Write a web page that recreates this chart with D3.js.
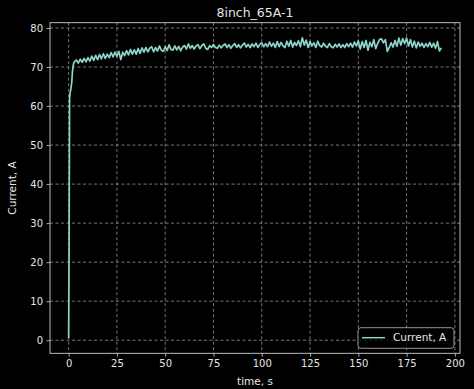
<!DOCTYPE html>
<html>
<head>
<meta charset="utf-8">
<script src="https://cdn.jsdelivr.net/npm/d3@7"></script>
<style>
  body { margin: 0; background: #000; }
  text { font-family: "DejaVu Sans", sans-serif; fill: #e6e6e6; }
</style>
</head>
<body>
<div id="chart"></div>
<script>
// start-up ramp (sub second samples)
const rampTime = [0, 0.2, 0.5, 0.8, 1.2, 1.6, 2.0, 2.5, 3.0]
const rampCurrent = [0.5, 20, 62, 63.5, 64.5, 66, 69, 70.8, 71.3]

// after that one sample per second from t = 4 s
const steadyStart = 4
const steadyStep = 1
const steadyCurrent = [
    71.8, 71.0, 72.0, 71.2, 72.2, 71.3, 72.4, 71.5, 72.8, 71.7,
    73.0, 71.9, 73.2, 72.1, 73.4, 72.2, 73.3, 72.4, 73.7, 72.6,
    73.8, 72.7, 74.0, 71.9, 73.8, 72.9, 74.2, 73.1, 74.5, 73.3,
    74.4, 73.3, 74.7, 73.5, 74.9, 73.8, 75.0, 73.9, 74.8, 75.2,
    73.9, 75.0, 74.1, 75.4, 74.3, 74.0, 75.2, 74.2, 75.7, 74.5,
    74.3, 75.4, 74.4, 75.3, 74.2, 75.1, 75.5, 74.6, 75.9, 74.8,
    75.5, 74.6, 75.4, 75.7, 74.7, 75.5, 75.9, 74.8, 74.5, 75.5,
    75.0, 75.8, 75.0, 74.8, 75.6, 74.9, 75.5, 75.9, 75.0, 75.7,
    74.8, 75.5, 76.0, 75.0, 75.7, 74.9, 75.6, 76.1, 75.1, 75.8,
    75.0, 75.9, 75.2, 76.1, 75.0, 75.8, 76.2, 75.2, 76.0, 75.2,
    76.4, 75.3, 76.1, 75.0, 76.5, 75.2, 76.3, 75.4, 75.0, 76.6,
    75.3, 76.8, 75.1, 76.3, 75.5, 76.7, 75.2, 77.5, 75.6, 76.9,
    75.0, 76.5, 75.4, 76.2, 75.0, 76.6, 75.5, 75.1, 76.1, 75.3,
    75.0, 76.0, 75.2, 74.9, 75.8, 75.1, 75.9, 75.0, 75.7, 75.0,
    76.0, 75.2, 76.1, 75.1, 76.4, 75.4, 76.7, 74.6, 76.5, 75.0,
    76.8, 74.3, 76.3, 75.2, 77.0, 74.7, 76.0, 77.1, 77.2, 76.2,
    77.0, 74.0, 75.0, 76.2, 75.1, 76.8, 75.3, 77.4, 75.6, 77.3,
    76.0, 77.4, 75.4, 77.0, 75.1, 76.6, 74.9, 76.4, 75.3, 76.1,
    75.0, 76.0, 75.2, 76.3, 75.1, 76.1, 74.8, 76.5, 74.1, 74.9
]

const xTicks = [0, 25, 50, 75, 100, 125, 150, 175, 200]
const yTicks = [0, 10, 20, 30, 40, 50, 60, 70, 80]

const title = "8inch_65A-1"
const xLabel = "time, s"
const yLabel = "Current, A"
const seriesName = "Current, A"

const width = 474, height = 389
const margin = {top: 22.7, right: 14, bottom: 35.7, left: 50}
const lineColor = "#8dd3c7"

let points = []
for (i = 0; i < rampTime.length; i++) {
    points.push({t: rampTime[i], c: rampCurrent[i]})
}
for (i = 0; i < steadyCurrent.length; i++) {
    points.push({t: steadyStart + i * steadyStep, c: steadyCurrent[i]})
}

// matplotlib style 5% padding
const pad = (ext) => {
    let d = (ext[1] - ext[0]) * 0.05
    return [ext[0] - d, ext[1] + d]
}

const x = d3.scaleLinear()
    .domain(pad(d3.extent(points, d => d.t)))
    .range([margin.left, width - margin.right])

const y = d3.scaleLinear()
    .domain(pad(d3.extent(points, d => d.c)))
    .range([height - margin.bottom, margin.top])

const svg = d3.select("#chart").append("svg")
    .attr("width", width)
    .attr("height", height)
    .style("background", "#000")

// grid
svg.append("g")
    .selectAll("line")
    .data(xTicks)
    .join("line")
    .attr("x1", d => x(d)).attr("x2", d => x(d))
    .attr("y1", margin.top).attr("y2", height - margin.bottom)
    .attr("stroke", "#b0b0b0")
    .attr("stroke-width", 0.8)
    .attr("stroke-dasharray", "3,2.5")
    .attr("opacity", 0.85)

svg.append("g")
    .selectAll("line")
    .data(yTicks)
    .join("line")
    .attr("x1", margin.left).attr("x2", width - margin.right)
    .attr("y1", d => y(d)).attr("y2", d => y(d))
    .attr("stroke", "#b0b0b0")
    .attr("stroke-width", 0.8)
    .attr("stroke-dasharray", "3,2.5")
    .attr("opacity", 0.85)

// the data line
const line = d3.line()
    .x(d => x(d.t))
    .y(d => y(d.c))

svg.append("path")
    .datum(points)
    .attr("d", line)
    .attr("fill", "none")
    .attr("stroke", lineColor)
    .attr("stroke-width", 1.7)
    .attr("stroke-linejoin", "round")

// axes
const xAxis = svg.append("g")
    .attr("transform", `translate(0,${height - margin.bottom})`)
    .call(d3.axisBottom(x).tickValues(xTicks).tickSize(3.5).tickPadding(3.5))

const yAxis = svg.append("g")
    .attr("transform", `translate(${margin.left},0)`)
    .call(d3.axisLeft(y).tickValues(yTicks).tickSize(3.5).tickPadding(3.5))

for (const ax of [xAxis, yAxis]) {
    ax.select(".domain").remove()
    ax.selectAll(".tick line").attr("stroke", "#d0d0d0").attr("stroke-width", 0.8)
    ax.selectAll(".tick text")
        .style("font-family", "DejaVu Sans")
        .style("font-size", "10px")
        .attr("fill", "#e6e6e6")
}

// frame
svg.append("rect")
    .attr("x", margin.left)
    .attr("y", margin.top)
    .attr("width", width - margin.left - margin.right)
    .attr("height", height - margin.top - margin.bottom)
    .attr("fill", "none")
    .attr("stroke", "#cfcfcf")
    .attr("stroke-width", 0.9)

// labels
svg.append("text")
    .attr("x", (margin.left + width - margin.right) / 2)
    .attr("y", 17)
    .attr("text-anchor", "middle")
    .style("font-size", "12.5px")
    .text(title)

svg.append("text")
    .attr("x", (margin.left + width - margin.right) / 2)
    .attr("y", 385)
    .attr("text-anchor", "middle")
    .style("font-size", "10.5px")
    .text(xLabel)

svg.append("text")
    .attr("transform", `translate(16,${(margin.top + height - margin.bottom) / 2}) rotate(-90)`)
    .attr("text-anchor", "middle")
    .style("font-size", "10.5px")
    .text(yLabel)

// legend
const legend = svg.append("g")
    .attr("transform", "translate(358,327.7)")

legend.append("rect")
    .attr("width", 96)
    .attr("height", 20.6)
    .attr("rx", 3)
    .attr("fill", "#000")
    .attr("fill-opacity", 0.8)
    .attr("stroke", "#b8b8b8")
    .attr("stroke-width", 0.8)

legend.append("line")
    .attr("x1", 4).attr("x2", 27)
    .attr("y1", 10).attr("y2", 10)
    .attr("stroke", lineColor)
    .attr("stroke-width", 1.5)

legend.append("text")
    .attr("x", 35)
    .attr("y", 13.8)
    .style("font-size", "10.5px")
    .text(seriesName)
</script>
</body>
</html>
